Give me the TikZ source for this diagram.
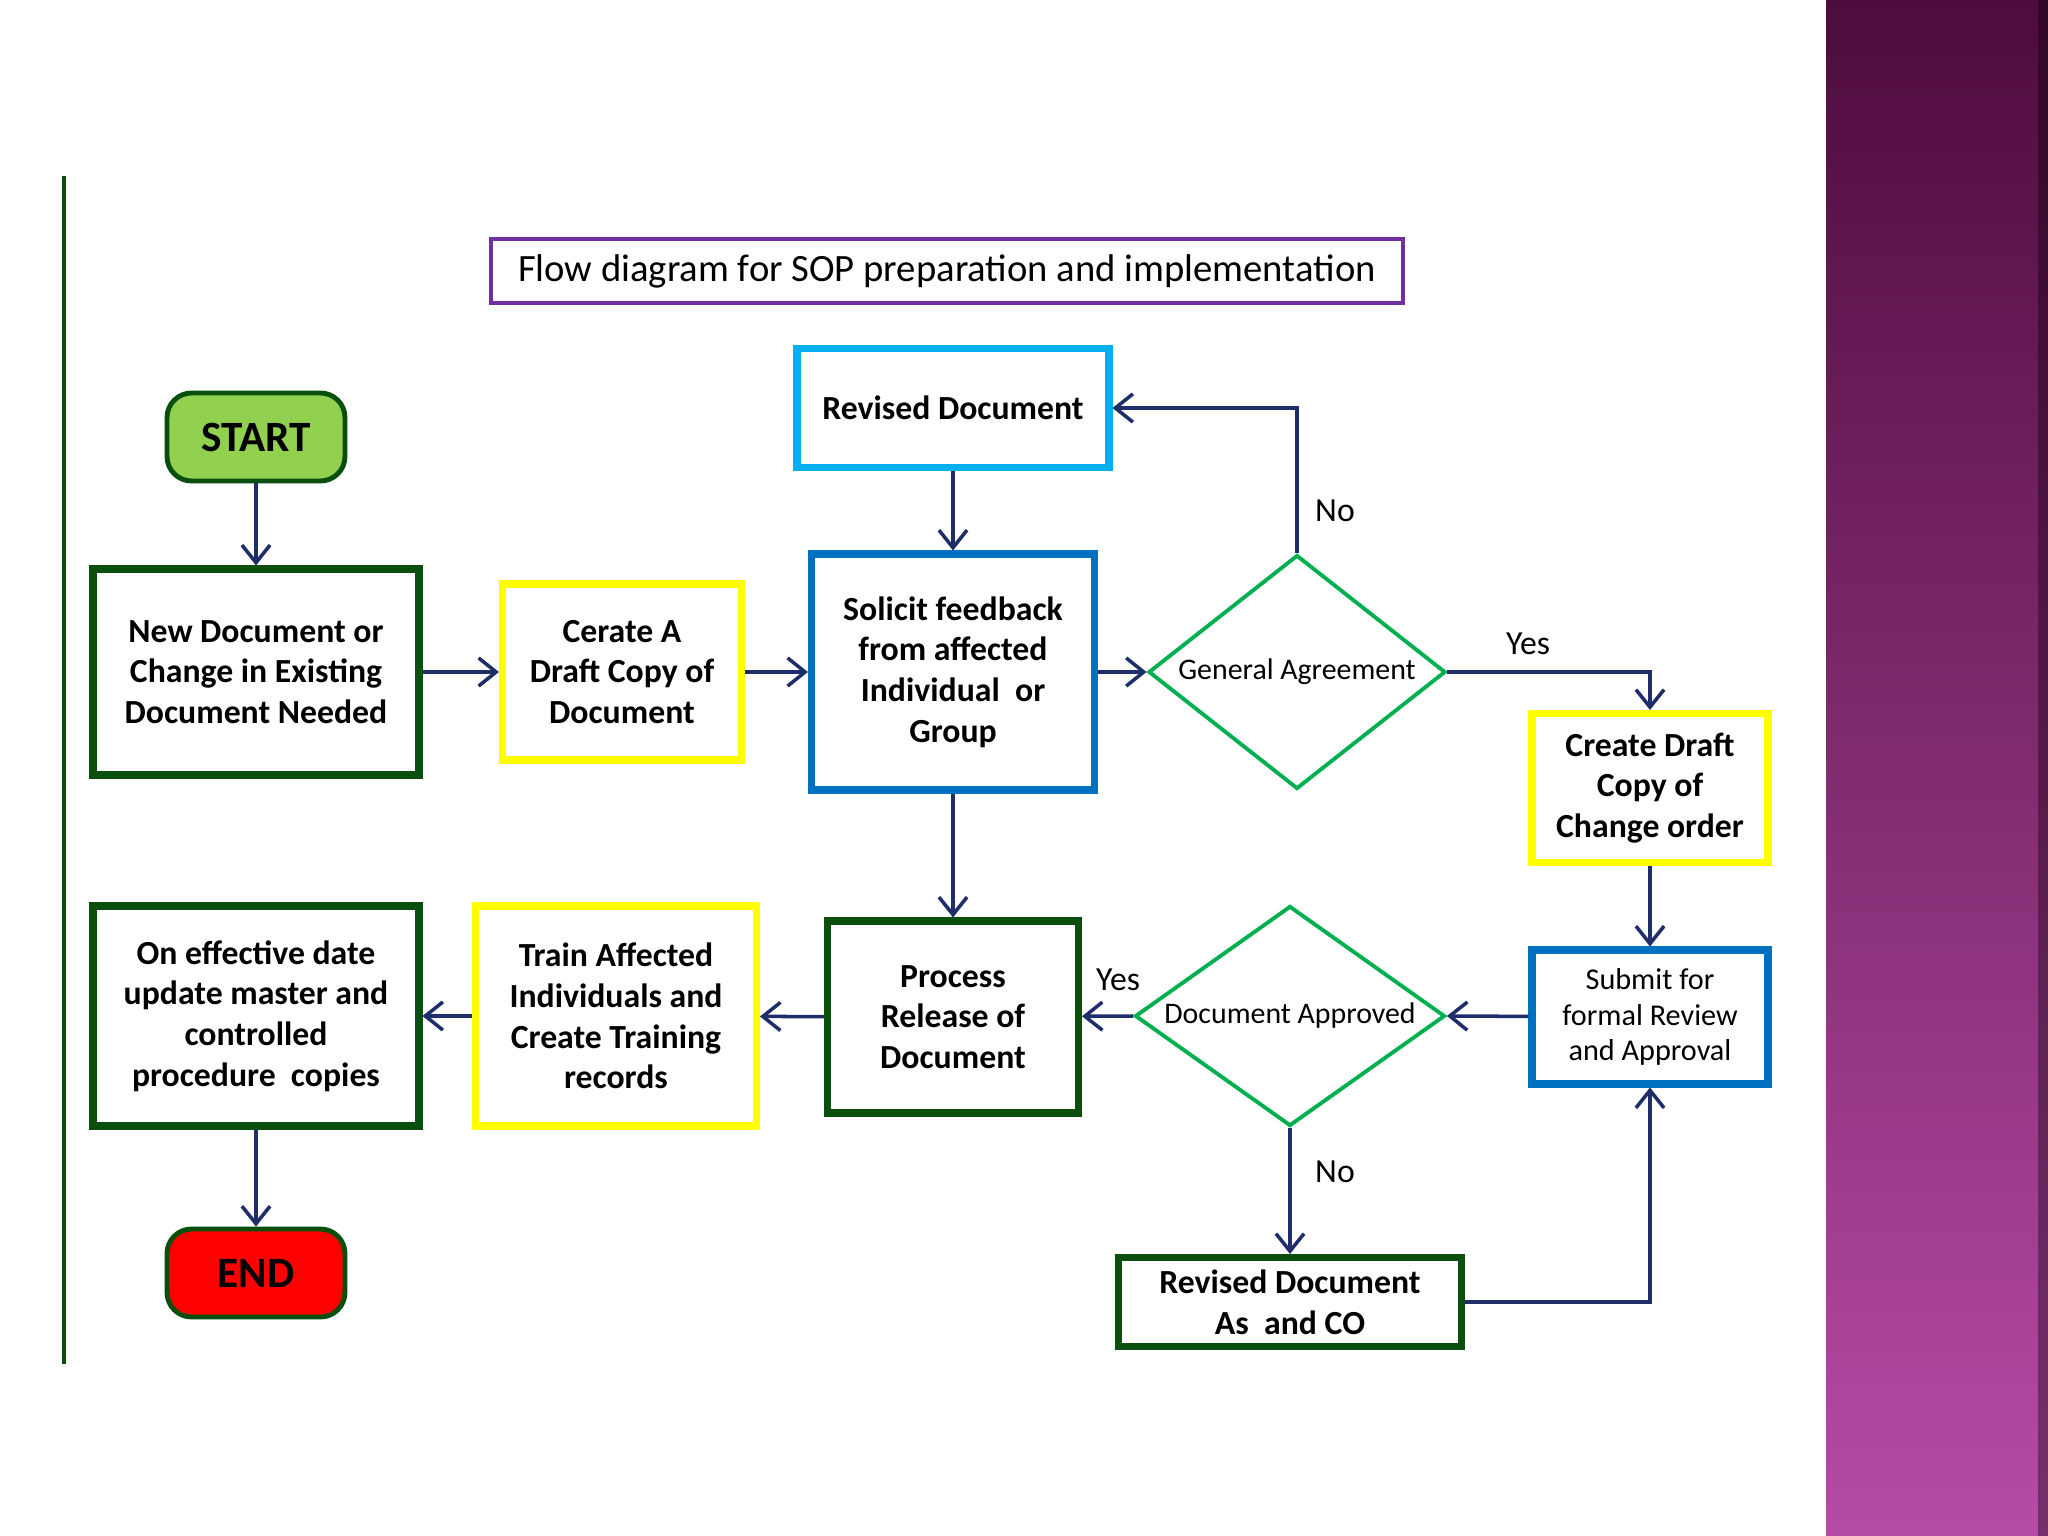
\documentclass[tikz,border=0pt]{standalone}
\usepackage{fontspec}
\setmainfont{Carlito}
\usepackage{tikz}
\usetikzlibrary{arrows, arrows.meta, shapes.geometric}
\definecolor{dkgreen}{HTML}{0B4F0E}
\definecolor{startgreen}{HTML}{92D050}
\definecolor{boxyellow}{HTML}{FFFF00}
\definecolor{boxblue}{HTML}{0070C0}
\definecolor{lightblue}{HTML}{00B0F0}
\definecolor{agreegreen}{HTML}{00B050}
\definecolor{navy}{HTML}{1F2D6B}
\definecolor{titlepurple}{HTML}{7030A0}
\definecolor{bandtop}{HTML}{4E0B3D}
\definecolor{bandbottom}{HTML}{B64BA5}
\tikzset{box/.style = {shape = rectangle, draw, fill = white, line width = 2pt, align = center, inner sep = 0pt, font = \fontsize{9.6}{11.6}\selectfont\bfseries}}
\tikzset{decision/.style = {shape = diamond, draw = agreegreen, fill = white, line width = 1.1pt, inner sep = 0pt, font = \fontsize{8.5}{10}\selectfont}}
\tikzset{terminal/.style = {shape = rectangle, rounded corners = 7pt, draw = dkgreen, line width = 1.4pt, minimum width = 1.78cm, minimum height = 0.88cm, font = \fontsize{12.3}{14}\selectfont\bfseries}}
\tikzset{edge/.style = {->, > = {Straight Barb[length = 5pt, width = 8pt]}, draw = navy, line width = 1pt}}
\tikzset{answer/.style = {font = \fontsize{9.6}{11}\selectfont}}

\begin{document}
\begin{tikzpicture}
				\useasboundingbox (0, 0) rectangle (20.48, -15.36);
				\fill[white] (0, 0) rectangle (20.48, -15.36);
				\shade[top color = bandtop, bottom color = bandbottom] (18.26, 0) rectangle (20.48, -15.36);
				\fill[black, opacity = 0.35] (20.38, 0) rectangle (20.48, -15.36);
				\draw[dkgreen, line width = 1.2pt] (0.64, -1.76) -- (0.64, -13.64);

				\node[draw = titlepurple, line width = 0.9pt, minimum width = 9.12cm, minimum height = 0.64cm, font = \fontsize{11}{13}\selectfont] (title) at (9.47, -2.71) {Flow diagram for SOP preparation and implementation};

				\node[terminal, fill = startgreen] (start) at (2.56, -4.37) {START};
				\node[box, draw = dkgreen, minimum width = 3.26cm, minimum height = 2.06cm] (newdoc) at (2.56, -6.72) {New Document or\\Change in Existing\\Document Needed};
				\node[box, draw = boxyellow, minimum width = 2.39cm, minimum height = 1.76cm] (draft) at (6.22, -6.72) {Cerate A\\Draft Copy of\\Document};
				\node[box, draw = boxblue, minimum width = 2.83cm, minimum height = 2.36cm] (solicit) at (9.53, -6.72) {Solicit feedback\\from affected\\Individual \ or\\Group};
				\node[box, draw = lightblue, minimum width = 3.12cm, minimum height = 1.19cm] (revtop) at (9.53, -4.08) {Revised Document};
				\node[decision, aspect = 1.27, minimum width = 2.97cm, minimum height = 2.34cm] (agree) at (12.97, -6.72) {General Agreement};
				\node[box, draw = boxyellow, minimum width = 2.36cm, minimum height = 1.49cm] (codraft) at (16.50, -7.88) {Create Draft\\Copy of\\Change order};
				\node[box, draw = boxblue, minimum width = 2.36cm, minimum height = 1.34cm, font = \fontsize{8.6}{10.2}\selectfont] (submit) at (16.50, -10.17) {Submit for\\formal Review\\and Approval};
				\node[decision, aspect = 1.41, minimum width = 3.10cm, minimum height = 2.20cm] (approved) at (12.90, -10.16) {Document Approved};
				\node[box, draw = dkgreen, minimum width = 2.51cm, minimum height = 1.92cm] (release) at (9.53, -10.17) {Process\\Release of\\Document};
				\node[box, draw = boxyellow, minimum width = 2.81cm, minimum height = 2.20cm] (train) at (6.16, -10.16) {Train Affected\\Individuals and\\Create Training\\records};
				\node[box, draw = dkgreen, minimum width = 3.26cm, minimum height = 2.20cm] (update) at (2.56, -10.16) {On effective date\\update master and\\controlled\\procedure \ copies};
				\node[terminal, fill = red] (stop) at (2.56, -12.73) {END};
				\node[box, draw = dkgreen, minimum width = 3.43cm, minimum height = 0.89cm] (revco) at (12.90, -13.02) {Revised Document\\As \ and CO};

				\node[answer] (noup) at (13.35, -5.11) {No};
				\node[answer] (yesup) at (15.28, -6.44) {Yes};
				\node[answer] (yesdown) at (11.18, -9.80) {Yes};
				\node[answer] (nodown) at (13.35, -11.72) {No};

				\draw[edge] (start) to (newdoc);
				\draw[edge] (newdoc) to (draft);
				\draw[edge] (draft) to (solicit);
				\draw[edge] (solicit) to (agree);
				\draw[edge] (revtop) to (solicit);
				\draw[edge] (agree.north) |- (revtop.east);
				\draw[edge] (agree.east) -| (codraft.north);
				\draw[edge] (codraft) to (submit);
				\draw[edge] (submit) to (approved.east);
				\draw[edge] (approved.west) to (release);
				\draw[edge] (approved.south) to (revco);
				\draw[edge] (revco.east) -| (submit.south);
				\draw[edge] (solicit) to (release);
				\draw[edge] (release) to (train);
				\draw[edge] (train) to (update);
				\draw[edge] (update) to (stop);
			\end{tikzpicture}
\end{document}
